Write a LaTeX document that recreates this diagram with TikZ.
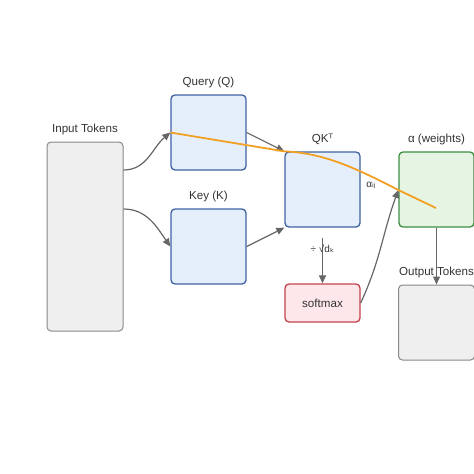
\documentclass[tikz,border=0pt]{standalone}
\usepackage{fontspec}
\setmainfont{Liberation Sans}
\newfontfamily\symfont{DejaVu Sans}
\usetikzlibrary{arrows.meta}

\definecolor{txtgray}{HTML}{333333}
\definecolor{lingray}{HTML}{666666}
\definecolor{boxgray}{HTML}{EFEFEF}
\definecolor{edgegray}{HTML}{888888}
\definecolor{boxblue}{HTML}{E5EFFC}
\definecolor{edgeblue}{HTML}{3F62A3}
\definecolor{boxgreen}{HTML}{E6F4E4}
\definecolor{edgegreen}{HTML}{3E8E41}
\definecolor{boxred}{HTML}{FDE7EA}
\definecolor{edgered}{HTML}{C4434E}
\definecolor{attnorange}{HTML}{F2A024}

\tikzset{
  blk/.style={draw, rounded corners=4pt, line width=1.3pt, inner sep=0pt},
  grayblk/.style={blk, fill=boxgray, draw=edgegray, line width=1pt},
  blueblk/.style={blk, fill=boxblue, draw=edgeblue, minimum width=75pt, minimum height=75pt},
  greenblk/.style={blk, fill=boxgreen, draw=edgegreen, minimum width=75pt, minimum height=75pt},
  redblk/.style={blk, fill=boxred, draw=edgered, minimum width=75pt, minimum height=38pt},
  ttl/.style={text=txtgray, font=\fontsize{11.6}{13}\selectfont},
  small/.style={text=txtgray, font=\fontsize{10}{12}\selectfont},
  conn/.style={draw=lingray, line width=1.2pt, -{Triangle[length=8pt,width=7pt]}}
}

\begin{document}
\begin{tikzpicture}[x=1pt,y=-1pt]
   \useasboundingbox (0,0) rectangle (474,474);
   \clip (0,0) rectangle (474,474);
   % boxes
   \node[grayblk, minimum width=76pt, minimum height=189pt] (in) at (85,236.5) {};
   \node[blueblk] (q)  at (208.5,132.5) {};
   \node[blueblk] (k)  at (208.5,246.5) {};
   \node[blueblk] (qk) at (322.5,189.5) {};
   \node[redblk]  (sm) at (322.5,303) {\fontsize{11.6}{13}\selectfont\color{txtgray}softmax};
   \node[greenblk] (w) at (436.5,189.5) {};
   \node[grayblk, minimum width=76pt, minimum height=75pt] (out) at (436.5,322.5) {};
   % titles
   \node[ttl] (tin)  at (85,129)   {Input Tokens};
   \node[ttl] (tq)   at (208.5,82) {Query (Q)};
   \node[ttl] (tk)   at (208.5,196) {Key (K)};
   \node[ttl] (tqk)  at (322.5,139) {QK{\symfont ᵀ}};
   \node[ttl] (tw)   at (436.5,139) {α (weights)};
   \node[ttl] (tout) at (436.5,272) {Output Tokens};
   % connectors
   \draw[conn] ([yshift=66.5pt]in.east) to[out=0,in=220] (q.west);
   \draw[conn] ([yshift=27.5pt]in.east) to[out=0,in=125] (k.west);
   \draw[conn] (q.east) -- (qk.north west);
   \draw[conn] (k.east) -- (qk.south west);
   \draw[conn] ([yshift=-10pt]qk.south) -- (sm.north)
      node[small, pos=0.25] {÷ √d{\symfont ₖ}};
   \draw[conn] (sm.east) to[out=65,in=250] ([yshift=-0.5pt]w.west);
   \draw[conn] (w.south) -- (out.north);
   \node[small] (aij) at (371,185) {α{\symfont ᵢⱼ}};
   % attention path
   \coordinate (wend) at (436,208);
   \draw[attnorange, line width=1.8pt]
     (q.west) -- (qk.north west) .. controls (322,153) and (352,166) .. ([yshift=-0.5pt]w.west) -- (wend);
\end{tikzpicture}
\end{document}
